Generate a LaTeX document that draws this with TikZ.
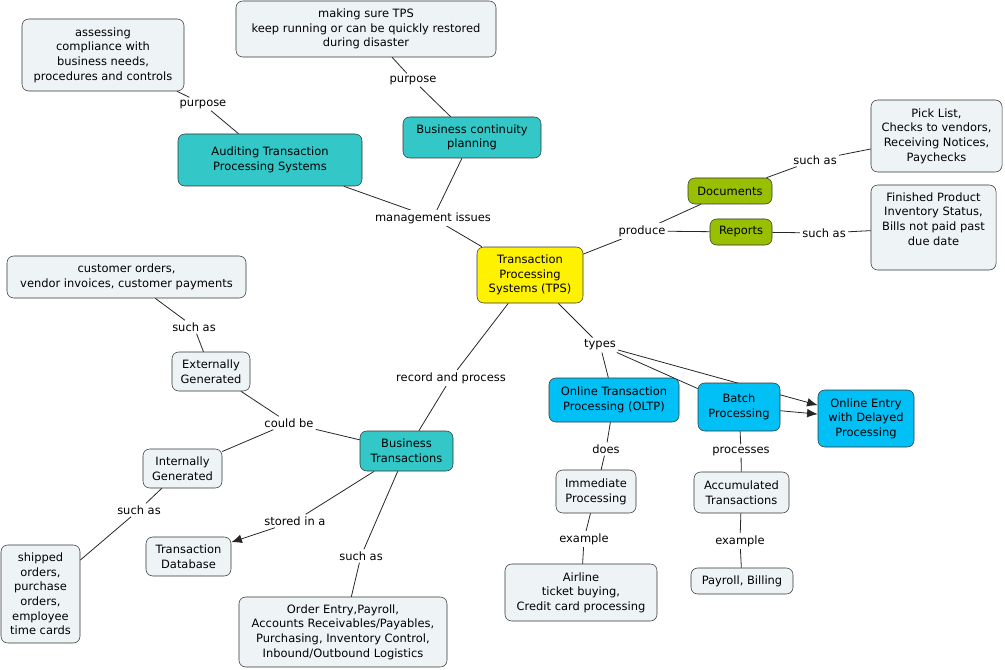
\documentclass[tikz,border=0pt]{standalone}
\usepackage{fontspec}
\setmainfont{DejaVu Sans}
\usetikzlibrary{backgrounds,arrows.meta}
\definecolor{pale}{HTML}{EEF3F5}
\definecolor{teal}{HTML}{33C7C7}
\definecolor{grn}{HTML}{99C000}
\definecolor{blu}{HTML}{00C0F6}
\begin{document}
\begin{tikzpicture}[x=0.75pt,y=-0.75pt,
 font=\fontsize{8.6}{11}\selectfont,
 box/.style={draw=black!80,rounded corners=5pt,align=center,inner sep=1pt,fill=pale},
 tl/.style={box,fill=teal}, gr/.style={box,fill=grn}, bl/.style={box,fill=blu},
 yl/.style={box,fill=yellow},
 lab/.style={fill=white,inner sep=1.5pt},
 ln/.style={draw=black!85,line width=0.6pt},
 ar/.style={ln,-{Latex[length=8pt,width=6.5pt]}}]
\useasboundingbox (0,0) rectangle (1005,670);
\def\B#1#2#3#4#5#6{\node[#1,minimum width={(#4-#2)*0.75pt},minimum height={(#5-#3)*0.75pt}] (#6) at ({(#2+#4)/2},{(#3+#5)/2})}
\B{yl}{477}{247}{583}{303}{tps} {Transaction\\Processing\\Systems (TPS)};
\B{box}{22}{19}{184}{91}{assess} {assessing\\compliance with\\business needs,\\procedures and controls};
\B{box}{236}{1}{496}{57}{making} {making sure TPS\\keep running or can be quickly restored\\during disaster};
\B{tl}{178}{134}{362}{186}{audit} {Auditing Transaction\\Processing Systems};
\B{tl}{403}{117}{541}{158}{bcp} {Business continuity\\planning};
\B{gr}{688}{178}{772}{204}{docs} {Documents};
\B{gr}{710}{219}{772}{245}{reps} {Reports};
\B{box}{871}{100}{1002}{172}{pick} {Pick List,\\Checks to vendors,\\Receiving Notices,\\Paychecks};
\B{box}{871}{185}{996}{270}{fin} {Finished Product\\Inventory Status,\\Bills not paid past\\due date\\[2pt]};
\B{box}{7}{256}{246}{298}{cust} {customer orders,\\vendor invoices, customer payments};
\B{box}{172}{352}{250}{391}{ext} {Externally\\Generated};
\B{box}{143}{449}{222}{488}{int} {Internally\\Generated};
\B{tl}{360}{431}{453}{471}{bt} {Business\\Transactions};
\B{box}{1}{545}{80}{643}{ship} {shipped\\orders,\\purchase\\orders,\\employee\\time cards};
\B{box}{146}{537}{231}{576}{tdb} {Transaction\\Database};
\B{box}{239}{597}{447}{667}{oe} {Order Entry,Payroll,\\Accounts Receivables/Payables,\\Purchasing, Inventory Control,\\Inbound/Outbound Logistics};
\B{bl}{549}{378}{679}{422}{oltp} {Online Transaction\\Processing (OLTP)};
\B{bl}{698}{383}{780}{431}{batch} {Batch\\Processing};
\B{bl}{818}{390}{914}{447}{oed} {Online Entry\\with Delayed\\Processing};
\B{box}{556}{470}{636}{513}{imm} {Immediate\\Processing};
\B{box}{694}{472}{789}{513}{acc} {Accumulated\\Transactions};
\B{box}{505}{564}{657}{621}{air} {Airline\\ticket buying,\\Credit card processing};
\B{box}{691}{568}{793}{594}{pay} {Payroll, Billing};
% labels
\node[lab] (p1) at (203,104) {purpose};
\node[lab] (p2) at (413,80) {purpose};
\node[lab] (mi) at (433,218) {management issues};
\node[lab] (pr) at (642,231) {produce};
\node[lab] (sa1) at (815,160) {such as};
\node[lab] (sa2) at (824,233) {such as};
\node[lab] (sa3) at (194,327) {such as};
\node[lab] (cb) at (289,423) {could be};
\node[lab] (sa4) at (139,510) {such as};
\node[lab] (rp) at (451,378) {record and process};
\node[lab] (st) at (295,521) {stored in a};
\node[lab] (sa5) at (361,556) {such as};
\node[lab] (ty) at (600,345) {types};
\node[lab] (does) at (606,449) {does};
\node[lab] (proc) at (741,451) {processes};
\node[lab] (ex1) at (584,539) {example};
\node[lab] (ex2) at (740,541) {example};
\begin{scope}[on background layer]
\draw[ln] (audit) -- (p1) -- (assess);
\draw[ln] (bcp) -- (p2) -- (making);
\draw[ln] (tps) -- (mi); \draw[ln] (mi) -- (audit); \draw[ln] (mi) -- (bcp);
\draw[ln] (tps) -- (pr); \draw[ln] (pr) -- (docs); \draw[ln] (pr) -- (reps);
\draw[ln] (docs) -- (sa1) -- (pick);
\draw[ln] (reps) -- (sa2) -- (fin);
\draw[ln] (tps) -- (rp) -- (bt);
\draw[ln] (bt) -- (cb); \draw[ln] (cb) -- (ext); \draw[ln] (cb) -- (int);
\draw[ln] (ext) -- (sa3) -- (cust);
\draw[ln] (int) -- (sa4) -- (ship);
\draw[ln] (bt) -- (st); \draw[ar] (st) -- (tdb);
\draw[ln] (bt) -- (sa5) -- (oe);
\draw[ln] (tps) -- (ty); \draw[ln] (ty) -- (oltp); \draw[ln] (ty) -- (batch);
\draw[ar] (ty) -- (oed);
\draw[ar] (batch) -- (oed);
\draw[ln] (oltp) -- (does) -- (imm);
\draw[ln] (batch) -- (proc) -- (acc);
\draw[ln] (imm) -- (ex1) -- (air);
\draw[ln] (acc) -- (ex2) -- (pay);
\end{scope}
\end{tikzpicture}
\end{document}
